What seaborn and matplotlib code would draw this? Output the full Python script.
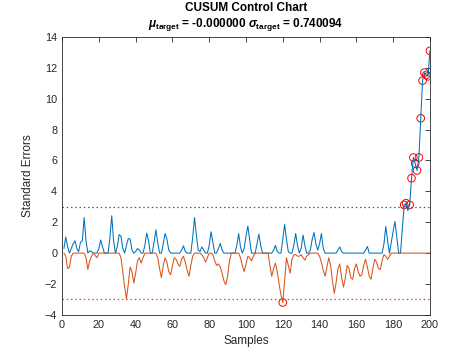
import numpy as np
import pandas as pd
import matplotlib
matplotlib.use("Agg")
import matplotlib.pyplot as plt
import seaborn as sns

# CUSUM values (samples 1..200)
upper = [0.3, 1.05, 0.4, 0, 0.3, 0.6, 0.8, 0.3, 0.1, 0.7,
         0.8, 2.3, 0.8, 0, 0.15, 0.1, 0, 0, 0, 0.3,
         0.85, 0.4, 0, 0, 0, 1.0, 2.42, 0.8, 0, 0.4,
         1.2, 1.1, 0.3, 0, 0.5, 0.95, 0.9, 0.2, 0, 0.1,
         0.3, 0.2, 0, 0, 0.5, 1.3, 0.8, 0, 0, 0.7,
         1.5, 0.7, 0, 0, 0.6, 1.27, 0.9, 0.2, 0, 0,
         0, 0, 0, 0, 0.2, 0.47, 0.1, 0, 0, 0,
         1.0, 2.3, 1.2, 0.2, 0.1, 0.4, 0.2, 0, 0, 0.5,
         1.38, 0.7, 0, 0, 0.3, 0.63, 0.2, 0, 0, 0,
         0, 0, 0, 0, 0.5, 1.27, 0.4, 0, 0.3, 1.1,
         1.75, 0.9, 0, 0, 0, 0.6, 1.23, 0.5, 0, 0,
         0, 0, 0, 0, 0.2, 0.5, 0.1, 0, 0, 0.9,
         1.86, 0.9, 0.1, 0, 0, 0.5, 1.27, 0.5, 0, 0.3,
         1.17, 0.5, 0, 0, 0.2, 0.9, 1.34, 0.6, 0.2, 0.6,
         1.27, 0.3, 0, 0, 0, 0, 0, 0, 0, 0.2,
         0.4, 0.1, 0, 0, 0, 0, 0, 0, 0, 0,
         0, 0, 0, 0, 0.2, 0.43, 0, 0, 0, 0,
         0, 0, 0, 0, 0.6, 1.73, 0.8, 0, 0.7, 1.4,
         2.05, 1.0, 0, 0, 1.6, 3.12, 3.23, 2.75, 3.12, 4.85,
         6.19, 5.8, 5.35, 6.19, 8.73, 11.17, 11.69, 11.54, 11.45, 13.1]
lower = [0, -0.2, -1.0, -0.9, -0.2, 0, 0, 0, 0, 0,
         0, 0, -0.3, -1.05, -0.5, -0.2, 0, -0.15, -0.3, 0,
         0, 0, 0, 0, 0, 0, 0, 0, 0, 0,
         0, -0.3, -1.2, -2.2, -2.96, -2.0, -0.9, -1.2, -1.94, -1.3,
         -0.5, -0.3, -0.65, -0.3, 0, 0, 0, 0, 0, 0,
         0, -0.3, -1.0, -1.58, -0.8, -0.3, -0.6, -1.2, -1.4, -0.8,
         -0.3, -0.4, -0.7, -0.86, -0.4, -0.2, -0.6, -1.1, -1.5, -0.8,
         -0.2, 0, 0, 0, 0, -0.1, -0.3, -0.58, -0.3, 0,
         0, -0.1, -0.5, -0.8, -0.7, -0.9, -1.3, -1.8, -2.05, -1.5,
         -0.5, 0, 0, 0, 0, 0, -0.3, -0.8, -1.2, -0.7,
         -0.2, -0.3, -0.5, -0.2, 0, 0, 0, 0, 0, 0,
         0, 0, -0.8, -1.5, -1.0, -0.65, -1.2, -2.0, -2.7, -3.2,
         -1.8, -0.3, -0.8, -1.3, -0.4, -0.1, -0.1, -0.2, -0.2, -0.1,
         -0.3, -0.45, -0.2, -0.1, 0, 0, 0, 0, 0, -0.2,
         -0.6, -1.1, -1.5, -0.9, -0.3, -0.8, -1.8, -2.6, -1.9, -1.0,
         -0.7, -1.6, -2.2, -1.6, -0.8, -1.0, -1.6, -1.7, -1.0, -0.7,
         -1.2, -1.5, -1.4, -0.8, -0.4, -0.9, -1.5, -1.7, -1.0, -0.4,
         -0.6, -1.0, -1.06, -0.5, -0.1, -0.2, -0.4, -0.2, 0, 0,
         0, 0, 0, 0, 0, 0, 0, 0, 0, 0,
         0, 0, 0, 0, 0, 0, 0, 0, 0, 0]
limit = 3
mu_target = -0.000000
sigma_target = 0.740094

samples = np.arange(1, len(upper) + 1)
df = pd.DataFrame({"Samples": samples, "upper": upper, "lower": lower})
out_up = df[df["upper"] > limit]
out_lo = df[df["lower"] < -limit]

sns.set_style("white")
plt.rcParams["font.family"] = ["Liberation Sans", "DejaVu Sans"]
plt.rcParams["mathtext.fontset"] = "custom"
plt.rcParams["mathtext.rm"] = "Liberation Sans:bold"
plt.rcParams["mathtext.it"] = "Liberation Sans:italic:bold"
plt.rcParams["mathtext.bf"] = "Liberation Sans:bold"

blue = "#0072BD"
orange = "#D95319"
fig = plt.figure(figsize=(4.74, 3.55), dpi=100)
ax = fig.add_axes([0.131, 0.113, 0.776, 0.783])

sns.lineplot(data=df, x="Samples", y="upper", color=blue, lw=0.75, ax=ax)
sns.lineplot(data=df, x="Samples", y="lower", color=orange, lw=0.75, ax=ax)
ax.axhline(limit, color=blue, ls=(0, (1.2, 2.2)), lw=0.9)
ax.axhline(-limit, color=orange, ls=(0, (1.2, 2.2)), lw=0.9)
sns.scatterplot(data=out_up, x="Samples", y="upper", marker="o", s=30,
                facecolor="none", edgecolor="red", linewidth=0.7, ax=ax)
sns.scatterplot(data=out_lo, x="Samples", y="lower", marker="o", s=30,
                facecolor="none", edgecolor="red", linewidth=0.7, ax=ax)

ax.set_xlim(0, 200)
ax.set_ylim(-4, 14)
ax.set_xticks(range(0, 201, 20))
ax.set_yticks(range(-4, 15, 2))
ax.tick_params(direction="in", length=3.5, width=0.6, labelsize=7.8,
               colors="#262626", top=True, right=True)
for s in ax.spines.values():
    s.set_color("#262626")
    s.set_linewidth(0.6)
ax.set_xlabel("Samples", fontsize=8.5, color="#262626", labelpad=4)
ax.set_ylabel("Standard Errors", fontsize=8.5, color="#262626", labelpad=8)
ax.set_title("CUSUM Control Chart\n"
             r"$\mu_{\mathrm{target}}$ = %.6f $\sigma_{\mathrm{target}}$ = %.6f"
             % (mu_target, sigma_target),
             fontsize=8.5, fontweight="bold", color="black", pad=7,
             linespacing=1.25)

plt.savefig("out.png", dpi=100)
